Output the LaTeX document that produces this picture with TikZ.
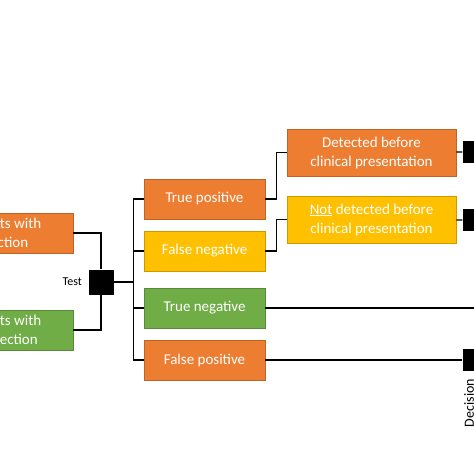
\documentclass[tikz,border=0pt]{standalone}
\usepackage{fontspec}
\setmainfont{Carlito}
\usetikzlibrary{positioning}
\definecolor{boxorange}{HTML}{ED7D31}
\definecolor{boxyellow}{HTML}{FFC000}
\definecolor{boxgreen}{HTML}{70AD47}
\begin{document}
\begin{tikzpicture}[x=1pt,y=-1pt, line width=1.2pt,
    box/.style = {draw=#1!80!black, fill=#1, line width=0.6pt, text=white, font=\fontsize{15}{19}\selectfont, align=center, inner sep=0pt},
    sq/.style = {fill=black, minimum size=#1, inner sep=0pt}]
    \useasboundingbox (0,0) rectangle (474,474);
    \clip (0,0) rectangle (474,474);
    % left column
    \node[box=boxorange, minimum width=143, minimum height=40] (inf) at (1.5,233) {Patients with\\infection};
    \node[box=boxgreen, minimum width=143, minimum height=40] (noinf) at (1.5,330) {Patients with\\no infection};
    \node[sq=25] (test) at (101,282) {};
    \node[left=2 of test, font=\fontsize{12}{14}\selectfont] (testlbl) {Test};
    % outcome column
    \node[box=boxorange, minimum width=121, minimum height=40] (tp) at (204.5,199) {True positive};
    \node[box=boxyellow, minimum width=121, minimum height=40] (fn) at (204.5,251) {False negative};
    \node[box=boxgreen, minimum width=121, minimum height=40] (tn) at (204.5,308) {True negative};
    \node[box=boxorange, minimum width=121, minimum height=40] (fp) at (204.5,360) {False positive};
    % detection column
    \node[box=boxorange, minimum width=169, minimum height=47] (det) at (371.5,152.5) {Detected before\\clinical presentation};
    \node[box=boxyellow, minimum width=169, minimum height=47] (notdet) at (371.5,219.5) {\underline{Not} detected before\\clinical presentation};
    % decisions
    \node[sq=22] (d1) at (474,152) {};
    \node[sq=22] (d2) at (474,220) {};
    \node[sq=22] (d3) at (474,360) {};
    \coordinate (tnend) at (474,308);
    \node[rotate=90, anchor=east, font=\fontsize{14}{16}\selectfont] (declbl) at (469,375) {Decision};

    \draw (inf.east) -| (test.north);
    \draw (noinf.east) -| (test.south);
    \draw (test.east) -- ++(19,0) coordinate (split);
    \foreach \n in {tp,fn,tn,fp}
        \draw (split |- \n) -- (\n.west);
    \draw (split |- tp) -- (split |- fp);
    \draw (tp.east) -- ++(11,0) |- (det.west);
    \draw (fn.east) -- ++(11,0) |- (notdet.west);
    \draw (det) -- (d1);
    \draw (notdet) -- (d2);
    \draw (tn) -- (tnend);
    \draw (fp) -- (d3);
\end{tikzpicture}
\end{document}
